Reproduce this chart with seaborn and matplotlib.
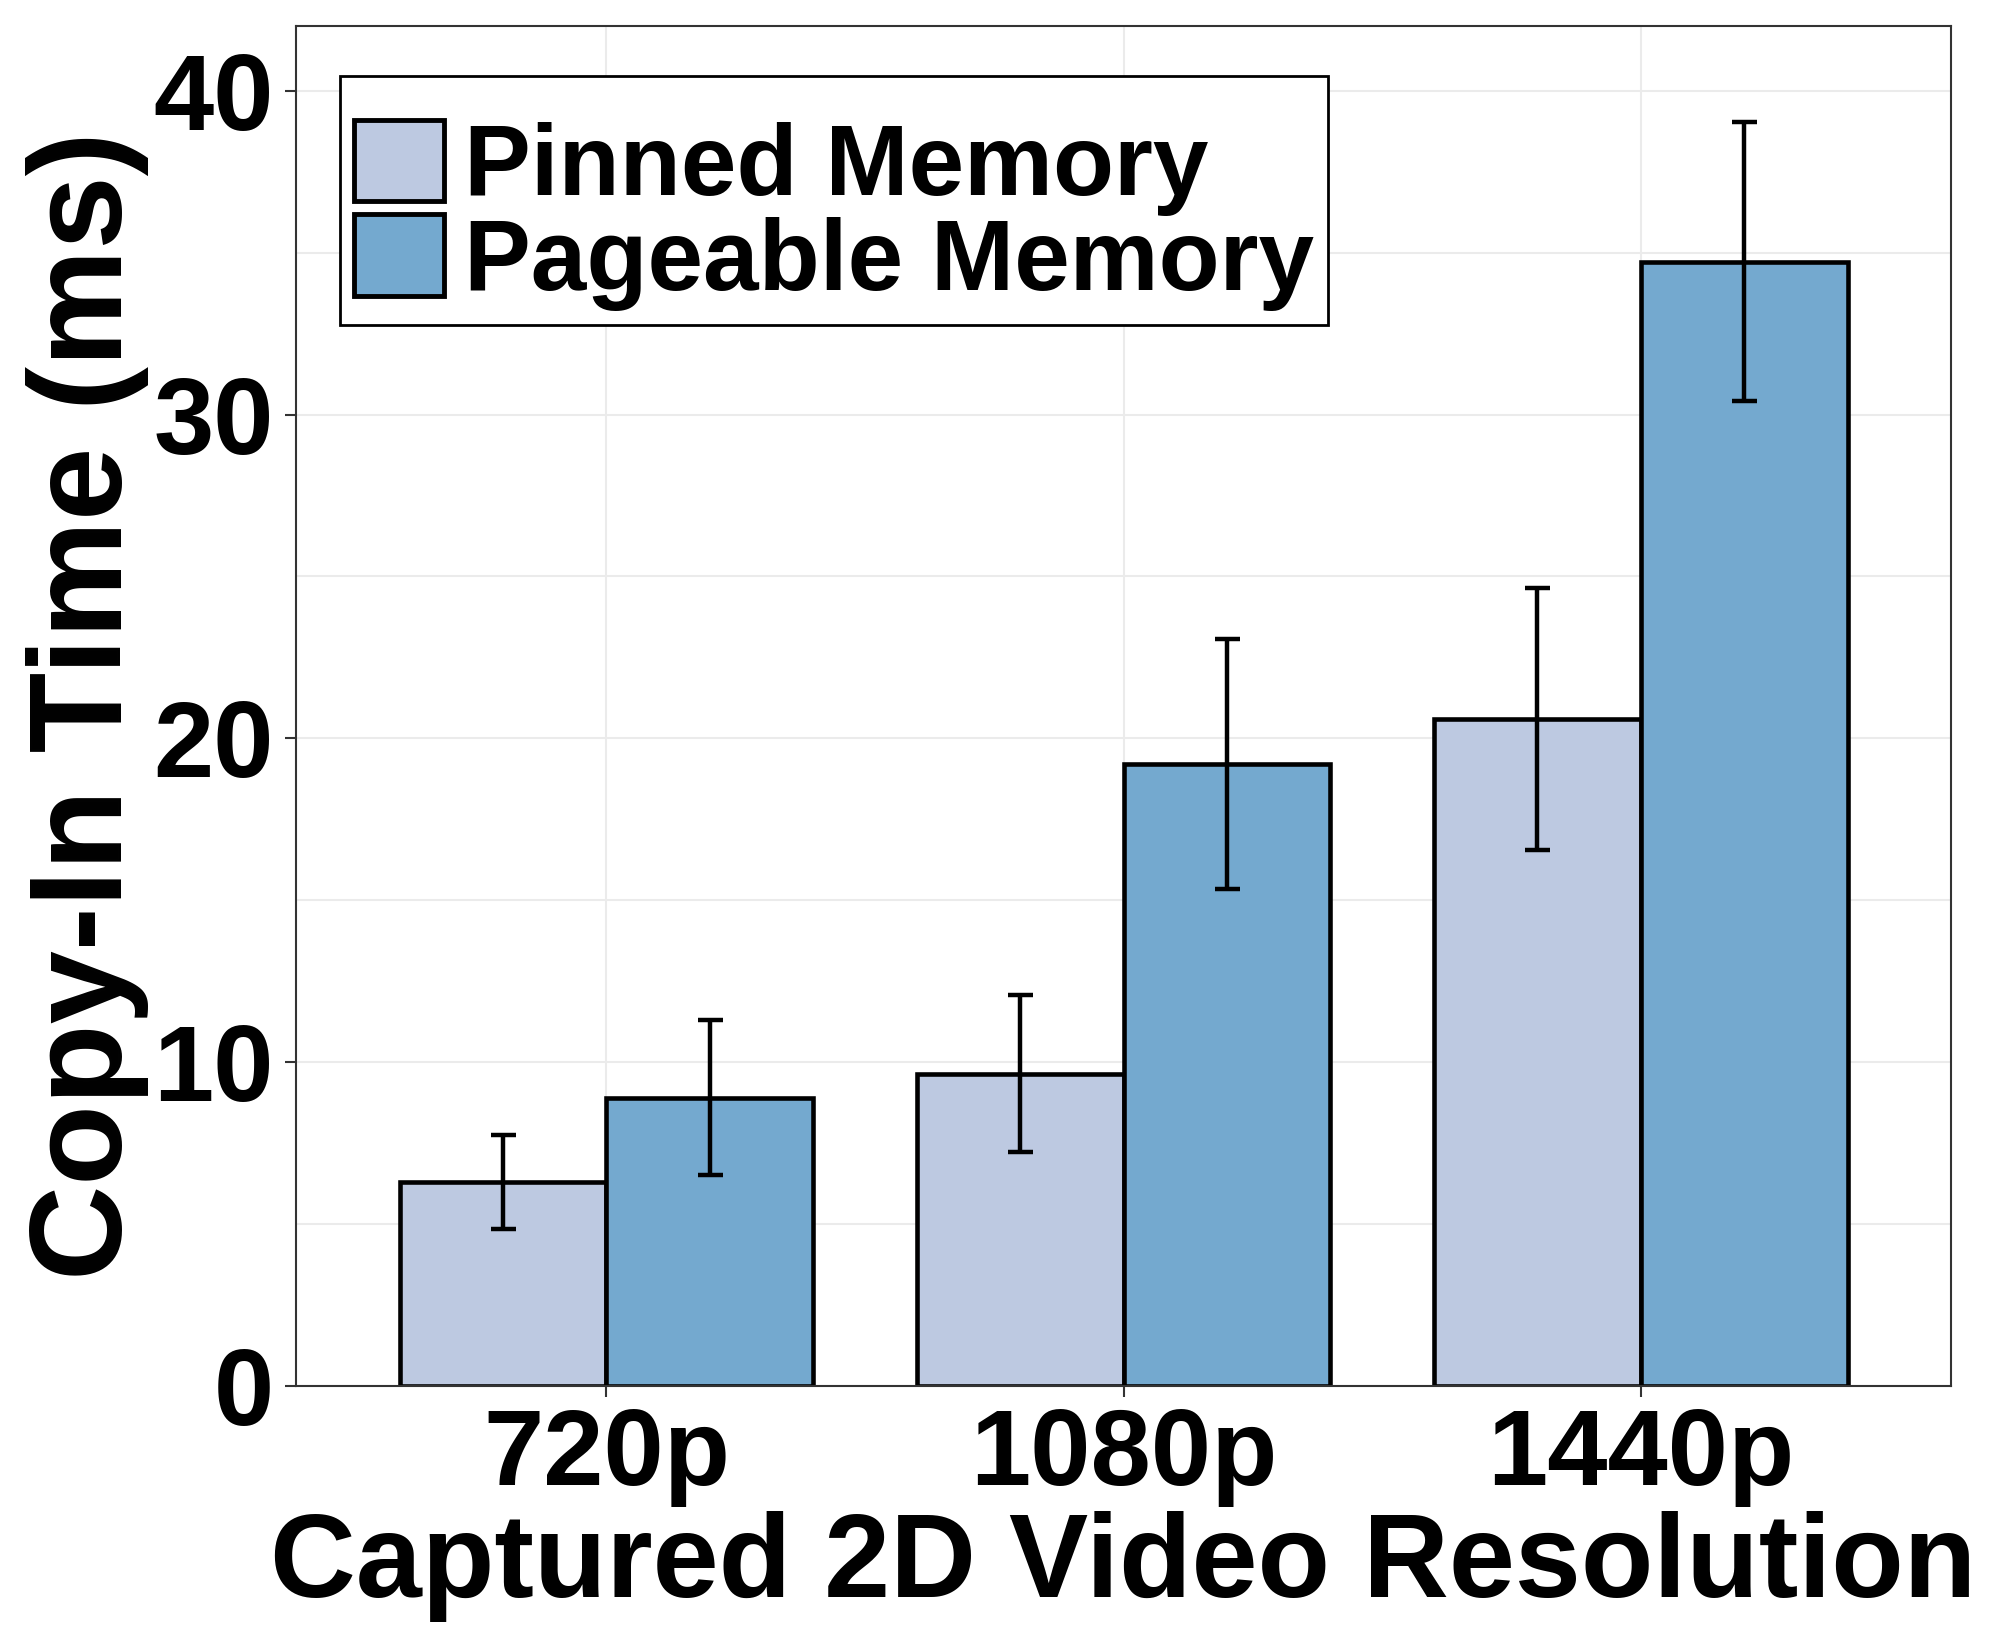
import pandas as pd
import seaborn as sns
import matplotlib.pyplot as plt
from matplotlib.ticker import MultipleLocator

# values
resolutions = ['720p', '1080p', '1440p']
memory_types = ['Pinned Memory', 'Pageable Memory']
pinned_mean = [6.3, 9.65, 20.6]
pinned_err = [1.45, 2.43, 4.05]
pageable_mean = [8.9, 19.2, 34.72]
pageable_err = [2.39, 3.86, 4.31]
colors = ['#BDC9E1', '#74A9CF']

df = pd.DataFrame({
    'resolution': resolutions * 2,
    'memory': [memory_types[0]] * 3 + [memory_types[1]] * 3,
    'time': pinned_mean + pageable_mean,
    'err': pinned_err + pageable_err,
})

sns.set_theme(style='white')
plt.rcParams['font.family'] = ['Liberation Sans', 'DejaVu Sans']
plt.rcParams['font.weight'] = 'bold'
plt.rcParams['text.color'] = 'black'
plt.rcParams['axes.labelcolor'] = 'black'

fig = plt.figure(figsize=(20.06, 16.44), dpi=100)
ax = fig.add_axes([0.1476, 0.1569, 0.8250, 0.8273])

sns.barplot(data=df, x='resolution', y='time', hue='memory', order=resolutions,
            hue_order=memory_types, palette=colors, saturation=1, width=0.8,
            edgecolor='black', linewidth=3.3, errorbar=None, ax=ax, zorder=2)

# error bars at the drawn bar centres
for cont, mem in zip(ax.containers, memory_types):
    sub = df[df['memory'] == mem].set_index('resolution').loc[resolutions]
    xs = [b.get_x() + b.get_width() / 2 for b in cont]
    ax.errorbar(xs, sub['time'], yerr=sub['err'], fmt='none', ecolor='black',
                elinewidth=3.2, capsize=9, capthick=3.2, zorder=3)

ax.set_ylim(0, 42)
ax.set_xlim(-0.6, 2.6)
ax.yaxis.set_major_locator(MultipleLocator(10))
ax.yaxis.set_minor_locator(MultipleLocator(5))
ax.grid(True, which='major', color='#EBEBEB', linewidth=1.5, zorder=0)
ax.grid(True, which='minor', axis='y', color='#EBEBEB', linewidth=1.5, zorder=0)
ax.set_axisbelow(True)

for s in ax.spines.values():
    s.set_color('#333333')
    s.set_linewidth(1.5)

ax.tick_params(axis='both', which='major', length=8, width=1.5, color='#333333',
               labelsize=78, labelcolor='black', bottom=True, left=True)
ax.tick_params(axis='x', pad=7)
ax.tick_params(axis='y', pad=8)
ax.tick_params(which='minor', length=0)
for lab in ax.get_xticklabels() + ax.get_yticklabels():
    lab.set_fontweight('bold')

ax.set_xlabel('Captured 2D Video Resolution', fontsize=85.5, fontweight='bold',
              color='black', labelpad=3)
ax.set_ylabel('Copy-In Time (ms)', fontsize=95, fontweight='bold',
              color='black', labelpad=3)

handles, labels = ax.get_legend_handles_labels()
ax.get_legend().remove()
leg = ax.legend(handles, labels, loc='upper left', bbox_to_anchor=(0.0266, 0.963),
                borderaxespad=0, prop={'weight': 'bold', 'size': 72},
                title=' ', title_fontsize=24,
                handlelength=0.9, handleheight=0.88, handletextpad=0.2,
                labelspacing=-0.017, borderpad=0.14, fancybox=False, framealpha=1)
leg.get_frame().set_edgecolor('black')
leg.get_frame().set_linewidth(2)
for t in leg.get_texts():
    t.set_color('black')
for h in leg.legend_handles:
    h.set_edgecolor('black')
    h.set_linewidth(3.5)

fig.savefig('out.png', dpi=100)
